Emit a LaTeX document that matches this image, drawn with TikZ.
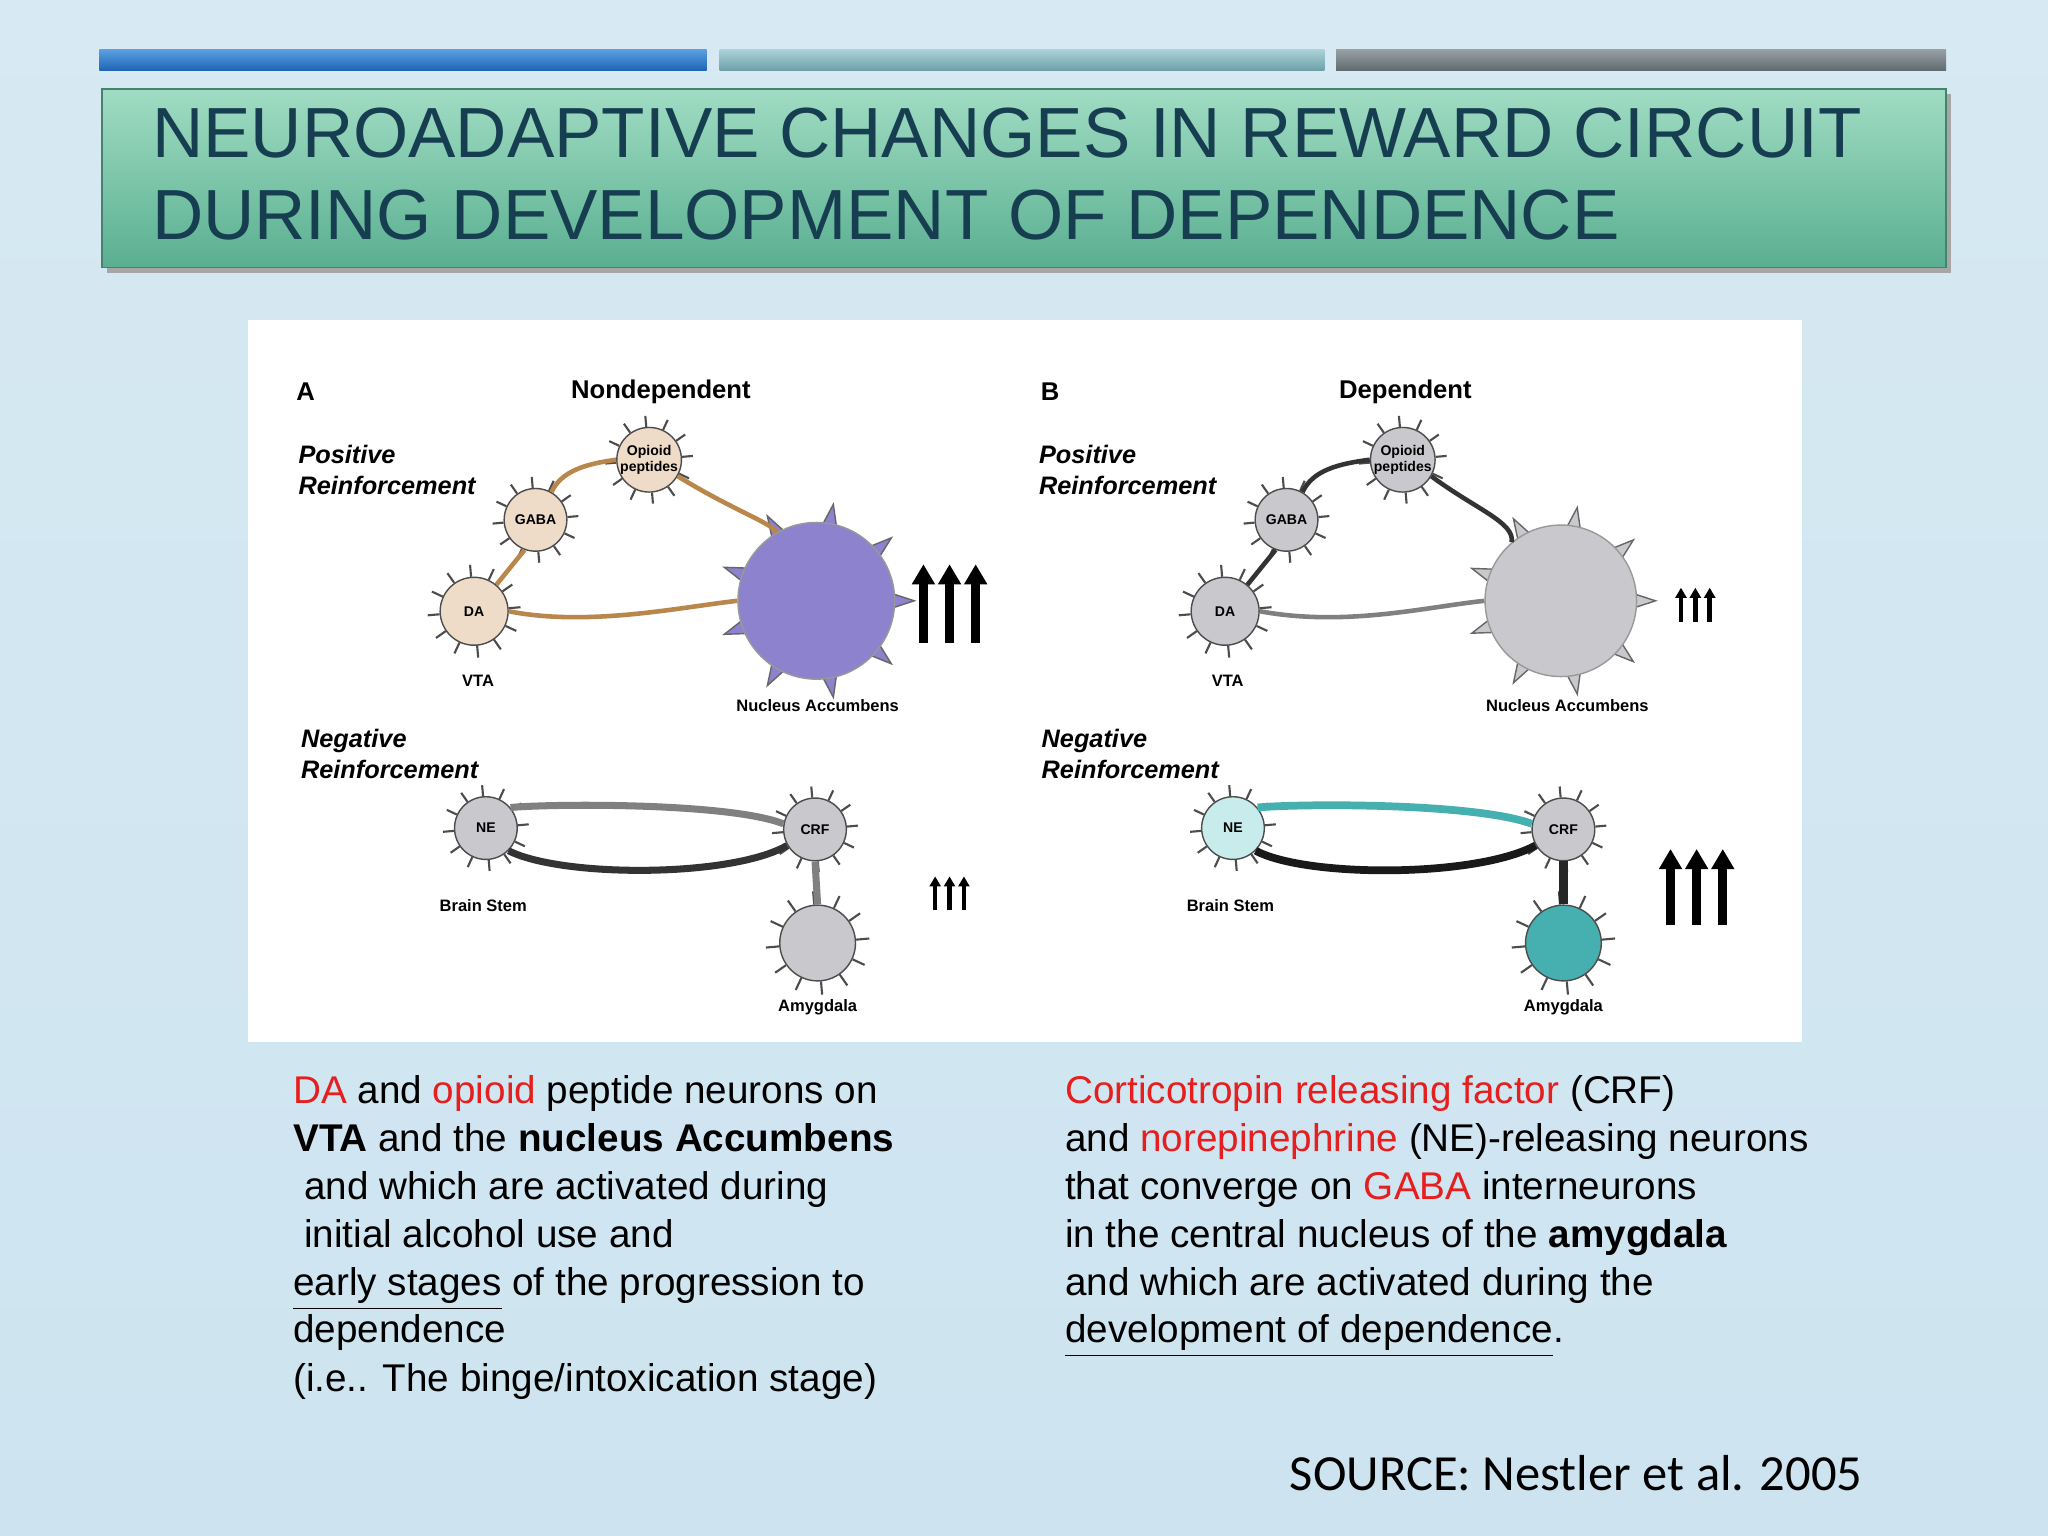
\documentclass[tikz,border=0pt]{standalone}
\usepackage{fontspec}
\setmainfont{Liberation Sans}
\newfontfamily\calib{Carlito}
\usetikzlibrary{arrows.meta}
\definecolor{bgc}{RGB}{205,228,240}
\definecolor{titletext}{RGB}{22,62,80}
\definecolor{redt}{RGB}{230,30,30}
\definecolor{tan}{RGB}{185,135,75}
\definecolor{peach}{RGB}{238,220,200}
\definecolor{purp}{RGB}{140,130,205}
\definecolor{gr}{RGB}{200,200,205}
\definecolor{tealc}{RGB}{70,175,175}
\definecolor{tealL}{RGB}{200,235,235}
\tikzset{
 lbl/.style={font=\fontsize{4.7}{5.5}\selectfont\bfseries, inner sep=0},
 hd/.style={font=\fontsize{7.3}{8.5}\selectfont\bfseries, inner sep=0},
 rein/.style={font=\fontsize{7.2}{8.8}\selectfont\bfseries\itshape, align=left, anchor=north west, inner sep=0},
 body/.style={font=\fontsize{11}{13}\selectfont, anchor=base west, inner sep=0},
 uparr/.style={-{Triangle[length=#1*2.2,width=#1*2.4]}, line width=#1},
 conn/.style={line width=1.3pt, draw=#1},
}
\newcommand\neuron[6]{% name, x, y, radius, fill, label
 \node[circle, draw=black!70, fill=#5, minimum size={2*#4*0.01306cm}, inner sep=0, font=\fontsize{4}{4.5}\selectfont\bfseries, align=center] (#1) at (#2,#3) {#6};
 \foreach \a in {5,35,...,335} \draw[black!70, line width=0.6pt] (#1.\a) -- ++(\a:{0.35*#4*0.01306cm});
}
\newcommand\bigneuron[5]{% name,x,y,r,fill
 \foreach \a in {0,40,...,320} \fill[#5, draw=black!60] ({#2+cos(\a-6)*#4*0.95},{#3-sin(\a-6)*#4*0.95}) -- ({#2+cos(\a)*#4*1.25},{#3-sin(\a)*#4*1.25}) -- ({#2+cos(\a+6)*#4*0.95},{#3-sin(\a+6)*#4*0.95}) -- cycle;
 \node[circle, fill=#5, draw=black!40, minimum size={2*#4*0.01306cm}, inner sep=0] (#1) at (#2,#3) {};
}
\begin{document}
\begin{tikzpicture}[x=0.01306cm,y=-0.01306cm]
\useasboundingbox (0,0) rectangle (1568,1176);
\shade[top color=bgc!80!white, bottom color=bgc] (0,0) rectangle (1568,1176);
% top bars
\shade[top color={rgb,255:red,90;green,160;blue,225}, bottom color={rgb,255:red,30;green,100;blue,180}] (76,38) rectangle (541,54);
\shade[top color={rgb,255:red,170;green,210;blue,215}, bottom color={rgb,255:red,110;green,160;blue,170}] (551,38) rectangle (1014,54);
\shade[top color={rgb,255:red,150;green,160;blue,165}, bottom color={rgb,255:red,95;green,105;blue,110}] (1023,38) rectangle (1490,54);
% title
\fill[black!35] (82,72) rectangle (1494,209);
\shade[top color={rgb,255:red,160;green,220;blue,195}, bottom color={rgb,255:red,90;green,175;blue,145}, draw={rgb,255:red,70;green,130;blue,110}] (78,68) rectangle (1490,205);
\node[anchor=north west, align=left, text=titletext, font=\fontsize{20.2}{23.5}\selectfont, inner sep=0] (title) at (116,82) {NEUROADAPTIVE CHANGES IN REWARD CIRCUIT\\DURING DEVELOPMENT OF DEPENDENCE};
% panel
\fill[white] (190,245) rectangle (1380,798);
% ---- Panel A
\node[hd] (lA) at (234,300) {A};
\node[hd] (tA) at (506,300) {Nondependent};
\node[rein] (pA) at (228,340) {Positive\\Reinforcement};
\bigneuron{nacA}{625}{460}{60}{purp}
\neuron{opA}{497}{352}{24}{peach}{Opioid\\peptides}
\neuron{gabaA}{410}{398}{24}{peach}{GABA}
\neuron{daA}{363}{468}{26}{peach}{DA}
\node[lbl] (vtaA) at (366,521) {VTA};
\node[lbl] (nlA) at (626,540) {Nucleus Accumbens};
\draw[conn=tan] (opA.180) .. controls (450,355) and (430,360) .. (gabaA.60);
\draw[conn=tan] (opA.-30) .. controls (560,390) and (590,400) .. (nacA.120);
\draw[conn=tan] (gabaA.-110) -- (daA.50);
\draw[conn=tan] (daA.0) .. controls (450,480) and (520,465) .. (nacA.180);
\foreach \dx in {-20,0,20} \draw[uparr=2.6pt] (727+\dx,492) -- (727+\dx,432);
\node[rein] (nA) at (230,558) {Negative\\Reinforcement};
\neuron{neA}{372}{634}{24}{gr}{NE}
\neuron{crfA}{624}{635}{24}{gr}{CRF}
\neuron{amA}{626}{722}{29}{gr}{}
\node[lbl] (bsA) at (370,693) {Brain Stem};
\node[lbl] (amlA) at (626,771) {Amygdala};
\draw[line width=2pt, gray] (neA.40) .. controls (430,615) and (560,615) .. (crfA.170);
\draw[line width=2pt, black!80] (crfA.-150) .. controls (560,672) and (430,672) .. (neA.-45);
\draw[line width=2pt, gray] (crfA.-90) -- (amA.90);
\foreach \dx in {-11,0,11} \draw[uparr=1.3pt] (727+\dx,697) -- (727+\dx,671);
% ---- Panel B
\node[hd] (lB) at (804,300) {B};
\node[hd] (tB) at (1076,300) {Dependent};
\node[rein] (pB) at (795,340) {Positive\\Reinforcement};
\bigneuron{nacB}{1195}{460}{58}{gr}
\neuron{opB}{1074}{352}{24}{gr}{Opioid\\peptides}
\neuron{gabaB}{985}{398}{24}{gr}{GABA}
\neuron{daB}{938}{468}{26}{gr}{DA}
\node[lbl] (vtaB) at (940,521) {VTA};
\node[lbl] (nlB) at (1200,540) {Nucleus Accumbens};
\draw[conn=black!80] (opB.180) .. controls (1025,355) and (1005,360) .. (gabaB.60);
\draw[conn=black!80] (opB.-30) .. controls (1130,390) and (1160,400) .. (nacB.130);
\draw[conn=black!80] (gabaB.-110) -- (daB.50);
\draw[conn=gray] (daB.0) .. controls (1030,480) and (1090,465) .. (nacB.180);
\foreach \dx in {-11,0,11} \draw[uparr=1.3pt] (1298+\dx,476) -- (1298+\dx,450);
\node[rein] (nB) at (797,558) {Negative\\Reinforcement};
\neuron{neB}{944}{634}{24}{tealL}{NE}
\neuron{crfB}{1197}{635}{24}{gr}{CRF}
\neuron{amB}{1197}{722}{29}{tealc}{}
\node[lbl] (bsB) at (942,693) {Brain Stem};
\node[lbl] (amlB) at (1197,771) {Amygdala};
\draw[line width=2.2pt, tealc] (neB.40) .. controls (1000,615) and (1130,615) .. (crfB.170);
\draw[line width=2.2pt, black!90] (crfB.-150) .. controls (1130,672) and (1000,672) .. (neB.-45);
\draw[line width=2.4pt, black!85] (crfB.-90) -- (amB.90);
\foreach \dx in {-20,0,20} \draw[uparr=2.6pt] (1299+\dx,708) -- (1299+\dx,650);
% ---- texts
\node[body] (t1) at (224,845) {\textcolor{redt}{DA} and \textcolor{redt}{opioid} peptide neurons on};
\node[body] (t2) at (224,882) {\textbf{VTA} and the \textbf{nucleus Accumbens}};
\node[body] (t3) at (224,918) {\ and which are activated during};
\node[body] (t4) at (224,955) {\ initial alcohol use and};
\node[body] (t5) at (224,992) {\underline{early stages} of the progression to};
\node[body] (t6) at (224,1028) {dependence};
\node[body] (t7) at (224,1065) {(i.e.. The binge/intoxication stage)};
\node[body] (r1) at (815,845) {\textcolor{redt}{Corticotropin releasing factor} (CRF)};
\node[body] (r2) at (815,882) {and \textcolor{redt}{norepinephrine} (NE)-releasing neurons};
\node[body] (r3) at (815,918) {that converge on \textcolor{redt}{GABA} interneurons};
\node[body] (r4) at (815,955) {in the central nucleus of the \textbf{amygdala}};
\node[body] (r5) at (815,992) {and which are activated during the};
\node[body] (r6) at (815,1028) {\underline{development of dependence}.};
\node[anchor=base west, inner sep=0, font=\calib\fontsize{14.4}{16}\selectfont] (src) at (987,1141) {SOURCE: Nestler et al. 2005};
\end{tikzpicture}
\end{document}
